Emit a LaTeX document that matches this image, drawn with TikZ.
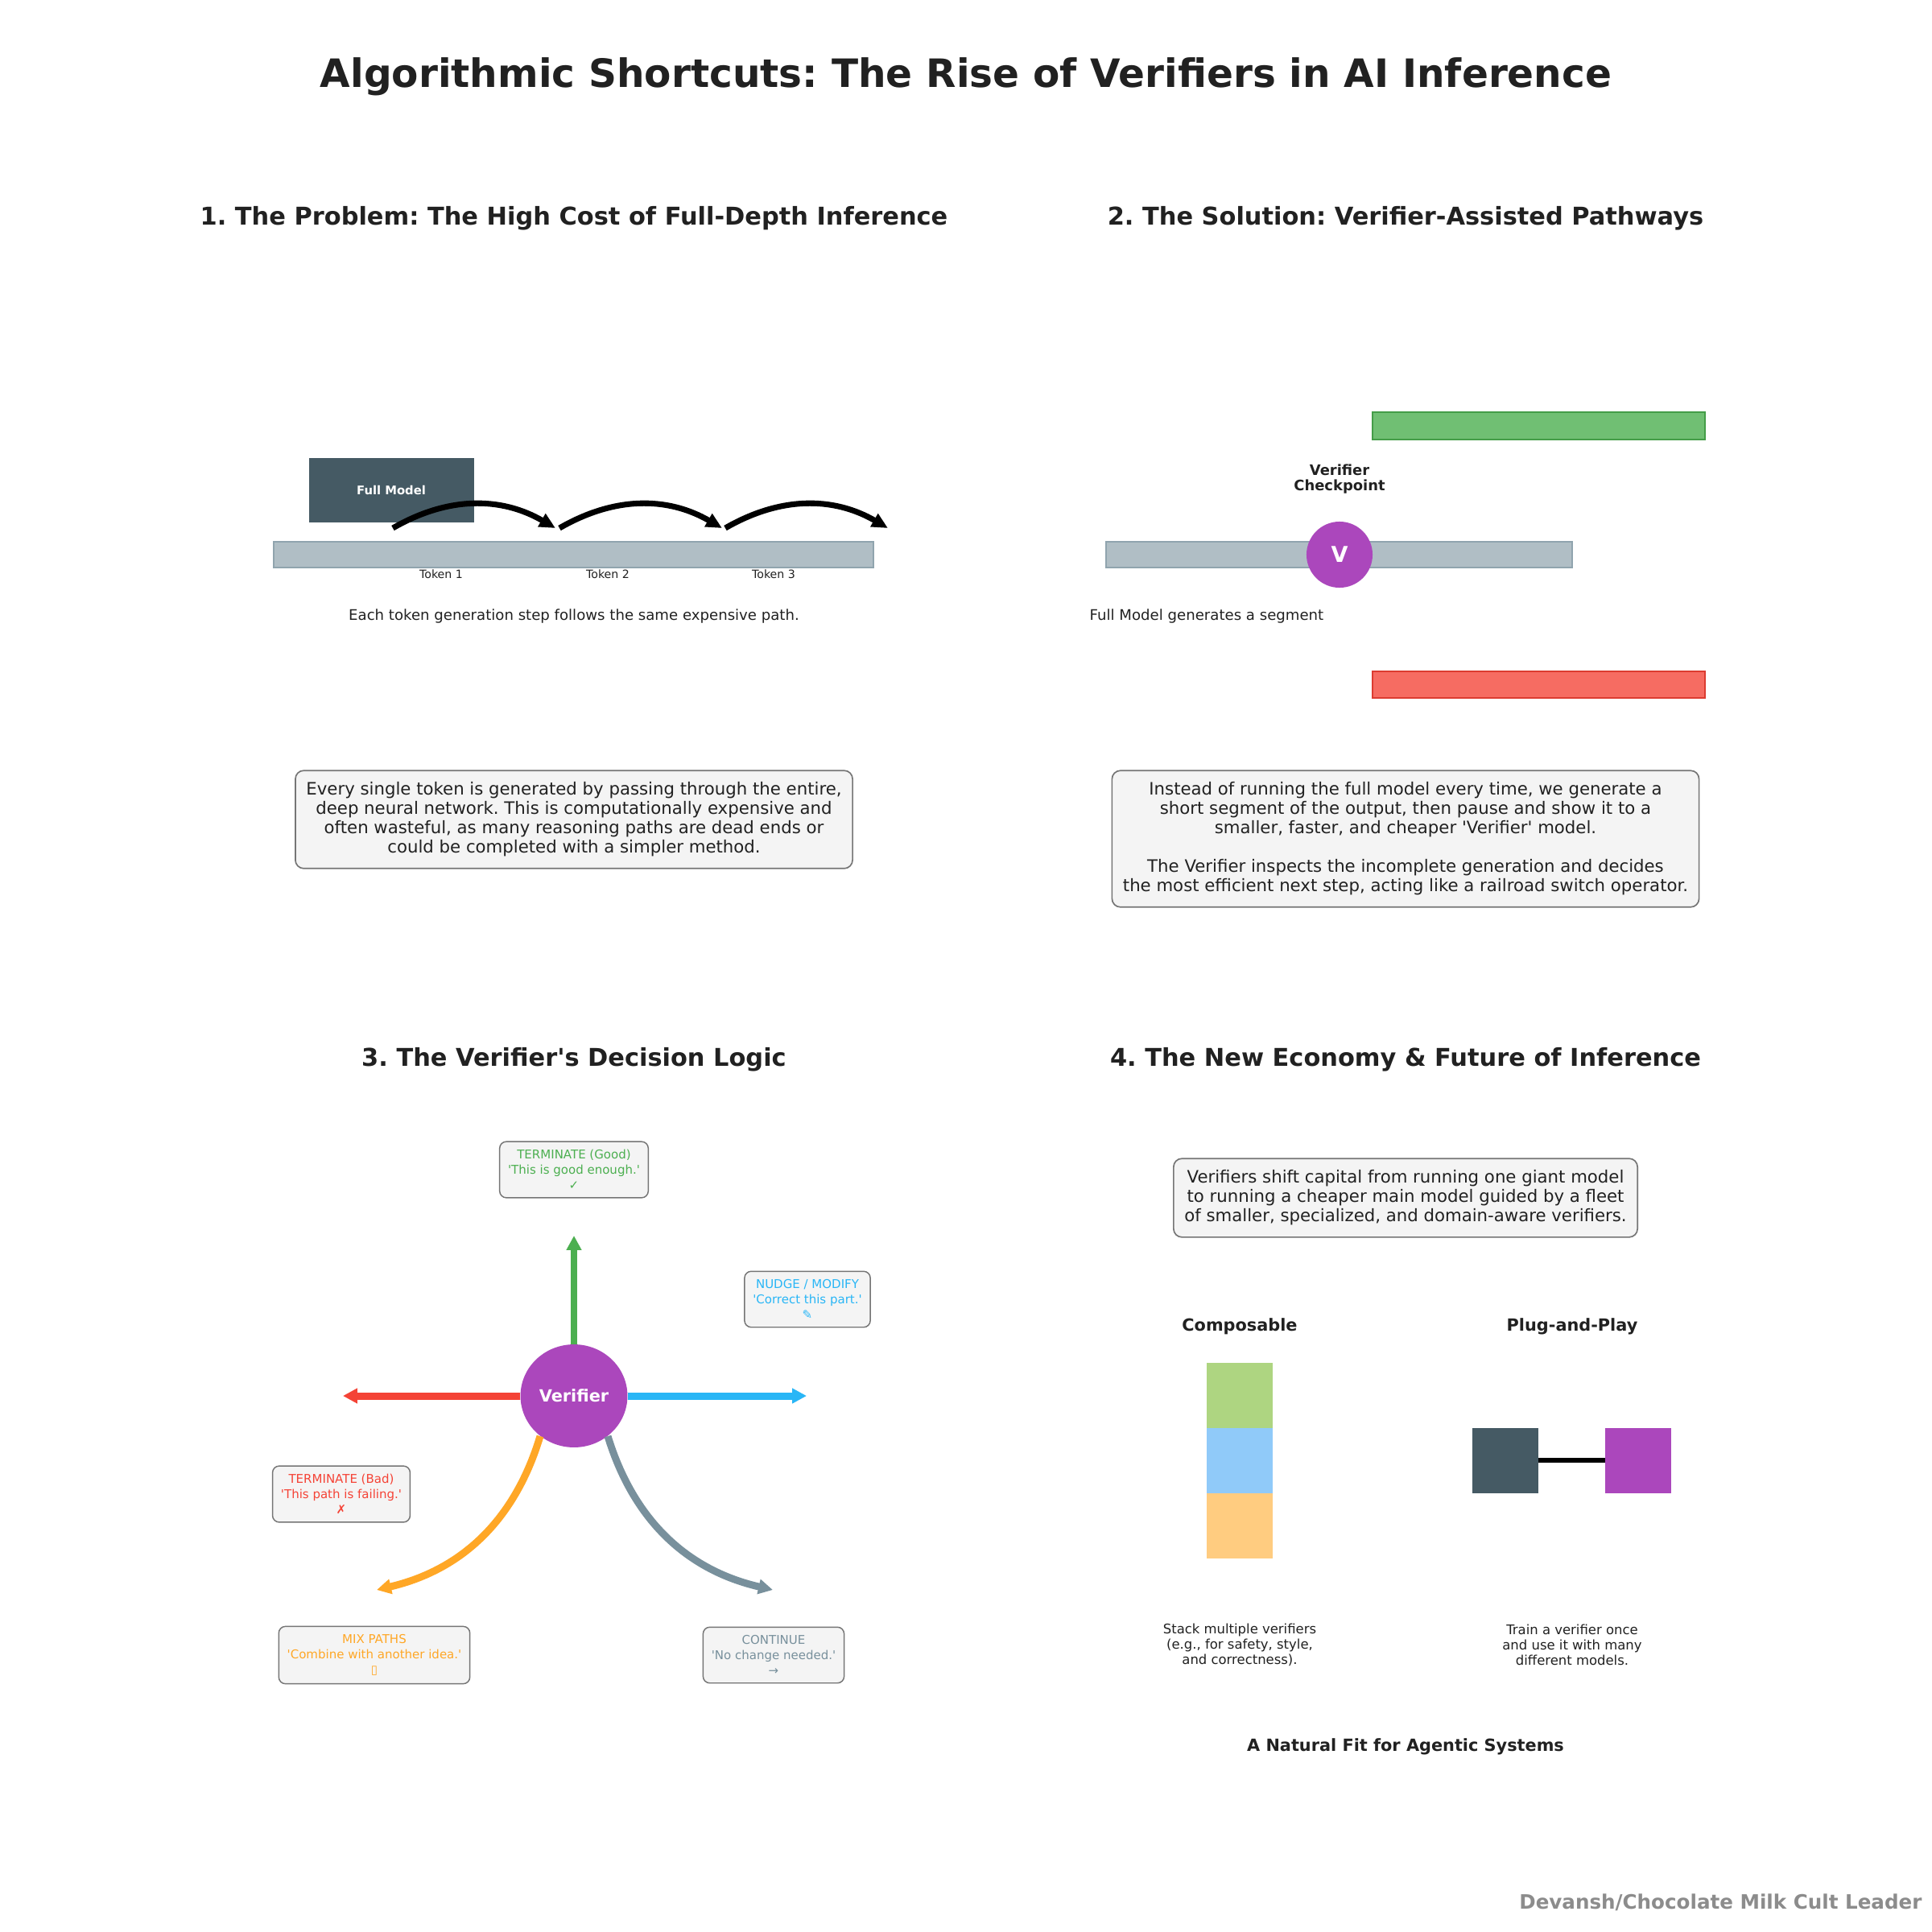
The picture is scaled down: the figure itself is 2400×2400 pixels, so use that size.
\documentclass[tikz,border=0pt]{standalone}
\usepackage{fontspec}
\setmainfont{DejaVu Sans}
\usepackage{tikz}
\usetikzlibrary{arrows.meta,positioning,shapes.geometric}
\frenchspacing
\definecolor{ink}{HTML}{212121}
\definecolor{slate}{HTML}{455A64}
\definecolor{trackc}{HTML}{B0BEC5}
\definecolor{trackedge}{HTML}{90A4AE}
\definecolor{vpurple}{HTML}{AB47BC}
\definecolor{goodc}{HTML}{4CAF50}
\definecolor{nudgec}{HTML}{29B6F6}
\definecolor{badc}{HTML}{F44336}
\definecolor{mixc}{HTML}{FFA726}
\definecolor{contc}{HTML}{78909C}
\definecolor{stackg}{HTML}{AED581}
\definecolor{stackb}{HTML}{90CAF9}
\definecolor{stacko}{HTML}{FFCC80}
\definecolor{boxfill}{HTML}{F4F4F4}
\definecolor{boxedge}{HTML}{757575}
\definecolor{creditc}{HTML}{8C8C8C}
\newcommand{\sq}{\textquotesingle}
\tikzset{
    maintitle/.style={font=\bfseries\fontsize{23.3}{28}\selectfont,text=ink},
    head/.style={font=\bfseries\fontsize{14.6}{17}\selectfont,text=ink},
    subhead/.style={font=\bfseries\fontsize{10}{12}\selectfont,text=ink},
    note/.style={font=\fontsize{8.7}{10.5}\selectfont,text=ink},
    smallnote/.style={font=\fontsize{7.9}{9.1}\selectfont,text=ink,align=center},
    tok/.style={font=\fontsize{6.8}{8}\selectfont,text=ink,inner sep=0pt},
    textbox/.style={draw=boxedge,fill=boxfill,line width=0.8pt,rounded corners=5pt,
        align=center,inner xsep=6.5pt,inner ysep=7pt,text=ink,
        font=\fontsize{10.2}{11.5}\selectfont},
    choice/.style={draw=boxedge,fill=boxfill,line width=0.7pt,rounded corners=4pt,
        align=center,inner sep=5pt,font=\fontsize{7.2}{9}\selectfont},
    model/.style={fill=slate,text=white,minimum width=98.4pt,minimum height=38.4pt,
        font=\bfseries\fontsize{7.1}{8.5}\selectfont},
    vdot/.style={circle,fill=vpurple,text=white,minimum size=39.4pt,inner sep=0pt,
        font=\bfseries\fontsize{13}{15}\selectfont},
    checkpoint/.style={align=center,text=ink,font=\bfseries\fontsize{8.6}{9.3}\selectfont},
    verif/.style={ellipse,fill=vpurple,text=white,minimum width=63.8pt,minimum height=61.4pt,
        inner sep=0pt,font=\bfseries\fontsize{10}{12}\selectfont},
    block/.style={minimum width=39.8pt,minimum height=38.9pt,inner sep=0pt,outer sep=0pt},
    track/.style={fill=trackc,draw=trackedge,line width=0.6pt},
    goodbar/.style={fill=goodc!80!white,draw=goodc!90!black,line width=0.6pt},
    badbar/.style={fill=badc!78!white,draw=badc!90!black,line width=0.6pt},
    hop/.style={line width=3.4pt,-{Triangle[length=9.5pt,width=8.5pt]}},
    branch/.style={line width=4.3pt,-{Triangle[length=8.6pt,width=8.6pt]}},
    plugline/.style={line width=3pt},
    credit/.style={font=\bfseries\fontsize{11.8}{14}\selectfont,text=creditc}
}
\begin{document}
\begin{tikzpicture}[x=0.48pt,y=-0.48pt]
    \useasboundingbox[fill=white] (0,0) rectangle (2400,2400);

    % title and panel headings
    \node[maintitle] (title) at (1200,95) {Algorithmic Shortcuts: The Rise of Verifiers in AI Inference};
    \node[head] (h1) at (713,271) {1. The Problem: The High Cost of Full-Depth Inference};
    \node[head] (h2) at (1746,271) {2. The Solution: Verifier-Assisted Pathways};
    \node[head] (h3) at (713,1316) {3. The Verifier\sq s Decision Logic};
    \node[head] (h4) at (1746,1316) {4. The New Economy \& Future of Inference};

    % panel 1
    \draw[track] (340,673) rectangle (1085,705);
    \node[model] (full) at (486,609) {Full Model};
    \foreach \i/\x in {1/548,2/755,3/961}{
        \node[tok] (tok\i) at (\x,713) {Token \i};
        \coordinate (hopa\i) at ({\x-60},656);
        \coordinate (hopb\i) at ({\x+142},656);
        \draw[hop] (hopa\i) to[bend left=30] (hopb\i);
    }
    \node[note] (path) at (713,765) {Each token generation step follows the same expensive path.};
    \node[textbox] (prob) at (713,1018) {Every single token is generated by passing through the entire,\\
        deep neural network. This is computationally expensive and\\
        often wasteful, as many reasoning paths are dead ends or\\
        could be completed with a simpler method.};

    % panel 2
    \draw[track] (1374,673) rectangle (1953,705);
    \draw[goodbar] (1705,512) rectangle (2118,546);
    \draw[badbar] (1705,834) rectangle (2118,867);
    \node[vdot] (vchk) at (1664,689) {V};
    \node[checkpoint] (vlab) at (1664,595) {Verifier\\Checkpoint};
    \node[note] (seg) at (1499,765) {Full Model generates a segment};
    \node[textbox] (sol) at (1746,1042) {Instead of running the full model every time, we generate a\\
        short segment of the output, then pause and show it to a\\
        smaller, faster, and cheaper \sq Verifier\sq{} model.\\[11.5pt]
        The Verifier inspects the incomplete generation and decides\\
        the most efficient next step, acting like a railroad switch operator.};

    % panel 3
    \node[verif] (ver) at (713,1734) {Verifier};
    \coordinate (upend) at (713,1535);
    \coordinate (rightend) at (1002,1734);
    \coordinate (leftend) at (426,1734);
    \coordinate (mixend) at (468,1975);
    \coordinate (contend) at (960,1975);
    \draw[branch,draw=goodc] (ver.north) -- (upend);
    \draw[branch,draw=nudgec] (ver.east) -- (rightend);
    \draw[branch,draw=badc] (ver.west) -- (leftend);
    \draw[branch,draw=mixc] (ver.-130) to[bend left=30] (mixend);
    \draw[branch,draw=contc] (ver.-50) to[bend right=30] (contend);
    \node[choice,text=goodc] (good) at (713,1453) {TERMINATE (Good)\\\sq This is good enough.\sq\\✓};
    \node[choice,text=nudgec] (nudge) at (1003,1614) {NUDGE / MODIFY\\\sq Correct this part.\sq\\✎};
    \node[choice,text=badc] (bad) at (424,1856) {TERMINATE (Bad)\\\sq This path is failing.\sq\\✗};
    \node[choice,text=mixc] (mix) at (465,2056) {MIX PATHS\\\sq Combine with another idea.\sq\\▯};
    \node[choice,text=contc] (cont) at (961,2056) {CONTINUE\\\sq No change needed.\sq\\→};

    % panel 4
    \node[textbox] (econ) at (1746,1488) {Verifiers shift capital from running one giant model\\
        to running a cheaper main model guided by a fleet\\
        of smaller, specialized, and domain-aware verifiers.};
    \node[subhead] (comp) at (1540,1648) {Composable};
    \node[subhead] (plug) at (1953,1648) {Plug-and-Play};
    \node[block,fill=stackg] (stk1) at (1540,1733) {};
    \node[block,fill=stackb,below=0pt of stk1] (stk2) {};
    \node[block,fill=stacko,below=0pt of stk2] (stk3) {};
    \node[block,fill=slate] (base) at (1870,1814) {};
    \node[block,fill=vpurple,right=39.4pt of base] (plugged) {};
    \draw[plugline] (base) -- (plugged);
    \node[smallnote] (compnote) at (1540,2043) {Stack multiple verifiers\\(e.g., for safety, style,\\and correctness).};
    \node[smallnote] (plugnote) at (1953,2043) {Train a verifier once\\and use it with many\\different models.};
    \node[subhead] (agentic) at (1746,2170) {A Natural Fit for Agentic Systems};

    \node[credit,anchor=west] (credit) at (1880,2363) {Devansh/Chocolate Milk Cult Leader};
\end{tikzpicture}
\end{document}
